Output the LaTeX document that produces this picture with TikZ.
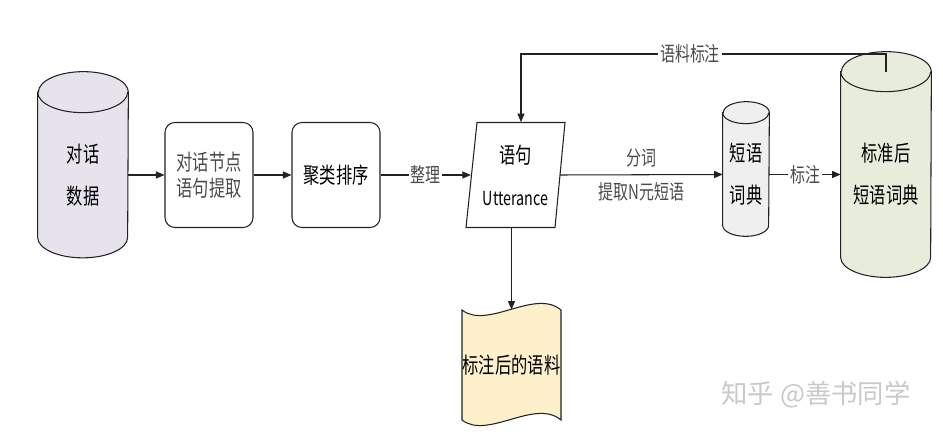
\documentclass[tikz,border=0pt]{standalone}
\usepackage{fontspec}
\usepackage{xcolor}
\newfontfamily\cjk[FakeStretch=0.74]{Noto Sans CJK SC}
\newfontfamily\cjkmark{Noto Sans CJK SC}
\usetikzlibrary{arrows.meta,backgrounds}
\definecolor{FlowLine}{HTML}{222222}
\definecolor{TagGray}{HTML}{4A4A4A}
\definecolor{DlgLilac}{HTML}{E6E3EC}
\definecolor{PhrGray}{HTML}{EFEFEF}
\definecolor{StdGreen}{HTML}{E7EDDA}
\definecolor{DocCream}{HTML}{FDF0CB}
\definecolor{MarkGray}{HTML}{C9C9C9}

\tikzset{
  flowtext/.style={align=center,inner sep=0pt,font=\cjk\fontsize{12.5}{24}\selectfont},
  flowbox/.style={flowtext,draw=FlowLine,line width=0.6pt,rounded corners=0.2cm,
    minimum width=1.76cm,minimum height=2.10cm},
  arr/.style={draw=FlowLine,line width=0.6pt,-{Triangle[length=0.17cm,width=0.14cm]}},
  tag/.style={fill=white,inner sep=1pt,text=TagGray,font=\cjk\fontsize{11.5}{13}\selectfont},
}

% cylinder drawn behind a node: node, half width, y radius, fill
\newcommand{\drum}[4]{%
  \begin{pgfonlayer}{background}
  \draw[FlowLine,line width=0.6pt,fill=#4] (#1.north west) -- ([yshift=#3]#1.south west)
    arc[start angle=180,end angle=360,x radius=#2,y radius=#3] -- (#1.north east)
    arc[start angle=0,end angle=180,x radius=#2,y radius=#3] -- cycle;
  \draw[FlowLine,line width=0.6pt] (#1.north west)
    arc[start angle=180,end angle=360,x radius=#2,y radius=#3];
  \end{pgfonlayer}}

\begin{document}
\begin{tikzpicture}[x=1cm,y=1cm]
\path[use as bounding box] (0,0) rectangle (18.86,8.72);
% nodes
\node[flowtext,minimum width=1.80cm,minimum height=3.30cm] (dlg) at (1.66,5.22) {对话\\数据};
\drum{dlg}{0.90cm}{0.41cm}{DlgLilac}
\node[flowbox,text=TagGray,font=\cjk\fontsize{12.5}{15}\selectfont] (ext) at (4.18,5.22) {对话节点\\语句提取};
\node[flowbox] (sort) at (6.72,5.22) {聚类排序};
\node[flowtext,minimum width=1.77cm,minimum height=2.10cm] (utt) at (10.31,5.22) {语句\\{\fontsize{11}{13}\selectfont Utterance}};
\draw[FlowLine,line width=0.6pt] (9.32,4.17) -- (9.54,6.27) -- (11.30,6.27) -- (11.10,4.17) -- cycle;
\node[flowtext,minimum width=0.92cm,minimum height=2.46cm] (phr) at (14.92,5.23) {短语\\词典};
\drum{phr}{0.46cm}{0.22cm}{PhrGray}
\node[flowtext,minimum width=1.80cm,minimum height=4.10cm] (std) at (17.72,5.23) {标准后\\短语词典};
\drum{std}{0.90cm}{0.40cm}{StdGreen}
\node[flowtext,minimum width=1.98cm,minimum height=2.20cm] (doc) at (10.23,1.42) {标注后的语料};
\begin{pgfonlayer}{background}
\draw[FlowLine,line width=0.6pt,fill=DocCream] (9.24,2.52) .. controls (9.75,2.12) and (10.70,2.96) .. (11.22,2.52)
  -- (11.22,0.32) .. controls (10.70,0.76) and (9.75,-0.08) .. (9.24,0.32) -- cycle;
\end{pgfonlayer}
% connectors
\draw[arr] (dlg.east) -- (ext.west);
\draw[arr] (ext.east) -- (sort.west);
\draw[arr] (sort.east) -- node[tag] (tidy) {整理} (utt.west);
\draw[arr] (utt.east) -- node[tag,above=3pt,fill=none] (seg) {分词}
  node[tag,below=3pt,fill=none] (ngram) {提取N元短语} (phr.west);
\draw[arr] (phr.east) -- node[tag] (mark) {标注} (std.west);
\draw[arr] (utt.south -| doc.north) -- (doc.north);
\coordinate (bend) at (10.42,7.64);
\draw[arr] (std.north) |- (bend) -- (bend |- utt.north);
\node[tag] (loop) at (13.80,7.64) {语料标注};
% watermark
\node[text=MarkGray,font=\cjkmark\fontsize{15}{17}\selectfont] (wm) at (16.32,0.82) {知乎 @善书同学};
\end{tikzpicture}
\end{document}
